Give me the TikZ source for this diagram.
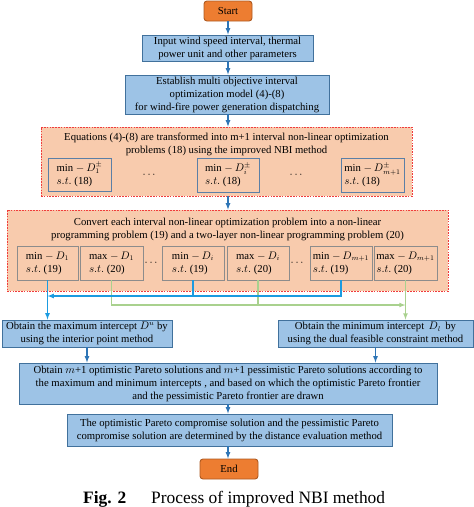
\documentclass[tikz,border=0pt]{standalone}
\usepackage{fontspec}
\setmainfont{Liberation Serif}
\usepackage{amsmath}
\usepackage{amssymb}
\usetikzlibrary{arrows}
\definecolor{boxblue}{HTML}{9DC3E6}
\definecolor{edgeblue}{HTML}{41719C}
\definecolor{termorange}{HTML}{ED7D31}
\definecolor{termedge}{HTML}{AE5A21}
\definecolor{peach}{HTML}{F8CBAD}
\definecolor{dashred}{HTML}{F03C3C}
\definecolor{subedge}{HTML}{5B7FA6}
\definecolor{subgray}{HTML}{8C8C8C}
\definecolor{arrowblue}{HTML}{2E75B6}
\definecolor{linkblue}{HTML}{1B9BE0}
\definecolor{linkgreen}{HTML}{A9D18E}
\tikzstyle{every node}=[font=\fontsize{10.7}{13}\selectfont]
\tikzstyle{stepbox}=[draw=edgeblue, line width=0.9pt, fill=boxblue, align=center, inner sep=0pt]
\tikzstyle{termbox}=[draw=termedge, line width=0.9pt, fill=termorange, rounded corners=3pt, inner sep=0pt]
\tikzstyle{groupbox}=[draw=dashred, line width=0.8pt, dash pattern=on 1.6pt off 1.2pt, fill=peach, inner sep=0pt]
\tikzstyle{subbox}=[line width=0.9pt, align=left, inner sep=0pt]
\tikzstyle{flow}=[-latex, draw=arrowblue, line width=1.2pt]

\begin{document}
\begin{tikzpicture}[x=1pt,y=-1pt]
\useasboundingbox (0,0) rectangle (474,507);
% main column
\node[termbox, minimum width=48pt, minimum height=20pt] (start) at (228,11) {Start};
\node[stepbox, minimum width=171pt, minimum height=26pt] (input) at (227.5,48) {Input wind speed interval, thermal\\power unit and other parameters};
\node[stepbox, minimum width=204pt, minimum height=39pt] (estab) at (227,94.5) {Establish multi objective interval\\optimization model (4)-(8)\\for wind-fire power generation dispatching};
% first dashed group
\node[groupbox, minimum width=371pt, minimum height=69pt] (grpA) at (226.5,161.5) {};
\node[align=center, inner sep=0pt] (titleA) at (226.5,144) {Equations (4)-(8) are transformed into m+1 interval non-linear optimization\\problems (18) using the improved NBI method};
\node[subbox, draw=subedge, minimum width=63pt, minimum height=33pt] (a1) at (79.5,174.5) {min $-\,D_1^{\pm}$\\$s.t.$ (18)};
\node[subbox, draw=subedge, minimum width=62pt, minimum height=34pt] (a2) at (228,175) {min $-\,D_i^{\pm}$\\$s.t.$ (18)};
\node[subbox, draw=subedge, minimum width=63pt, minimum height=34pt] (a3) at (372.5,175) {min $-\,D_{m+1}^{\pm}$\\$s.t.$ (18)};
\node (dotsA1) at (150,175) {$\cdots$};
\node (dotsA2) at (297,175) {$\cdots$};
% second dashed group
\node[groupbox, minimum width=441pt, minimum height=81pt] (grpB) at (227.5,250.5) {};
\node[align=center, inner sep=0pt] (titleB) at (227.5,229) {Convert each interval non-linear optimization problem into a non-linear\\programming problem (19) and a two-layer non-linear programming problem (20)};
\node[subbox, draw=subgray, minimum width=61pt, minimum height=34pt] (b1) at (47.5,263) {min $-\,D_1$\\$s.t.$ (19)};
\node[subbox, draw=subgray, minimum width=63pt, minimum height=34pt] (b2) at (111.5,263) {max $-\,D_1$\\$s.t.$ (20)};
\node[subbox, draw=subgray, minimum width=62pt, minimum height=34pt] (b3) at (193,263) {min $-\,D_i$\\$s.t.$ (19)};
\node[subbox, draw=subgray, minimum width=62pt, minimum height=34pt] (b4) at (258,263) {max $-\,D_i$\\$s.t.$ (20)};
\node[subbox, draw=subgray, minimum width=62pt, minimum height=34pt] (b5) at (341,263) {min $-\,D_{m+1}$\\$s.t.$ (19)};
\node[subbox, draw=subgray, minimum width=63pt, minimum height=34pt] (b6) at (405.5,263) {max $-\,D_{m+1}$\\$s.t.$ (20)};
\node (dotsB1) at (152,263) {$\cdots$};
\node (dotsB2) at (298,263) {$\cdots$};
% intercepts and results
\node[stepbox, minimum width=170pt, minimum height=27pt] (maxb) at (87,333.5) {Obtain the maximum intercept $D^{u}$ by\\using the interior point method};
\node[stepbox, minimum width=195pt, minimum height=27pt] (minb) at (375.5,333.5) {Obtain the minimum intercept \,$D_{l}$\, by\\using the dual feasible constraint method};
\node[stepbox, minimum width=418pt, minimum height=41pt] (big) at (228,383.5) {Obtain $m$+1 optimistic Pareto solutions and $m$+1 pessimistic Pareto solutions according to\\the maximum and minimum intercepts , and based on which the optimistic Pareto frontier\\and the pessimistic Pareto frontier are drawn};
\node[stepbox, minimum width=325pt, minimum height=32pt] (comp) at (229.5,430) {The optimistic Pareto compromise solution and the pessimistic Pareto\\compromise solution are determined by the distance evaluation method};
\node[termbox, minimum width=58pt, minimum height=20pt] (end) at (229,469) {End};
\node[anchor=base west, inner sep=0pt, font=\fontsize{17.4}{20}\selectfont] (caption) at (83,503) {\textbf{Fig. 2}\hspace{25pt}Process of improved NBI method};
% connectors
\coordinate (bline) at (0,296);
\coordinate (gline) at (0,305);
\draw[flow] (start.south) -- (start.south |- input.north);
\draw[flow] (start.south |- input.south) -- (start.south |- estab.north);
\draw[flow] (start.south |- estab.south) -- (start.south |- grpA.north);
\draw[flow] (start.south |- grpA.south) -- (start.south |- grpB.north);
\draw[-latex, linkgreen, line width=1.1pt] (b2.south) |- (b6.south |- gline);
\draw[linkgreen, line width=1.1pt] (b4.south) -- (b4.south |- gline);
\draw[-latex, linkgreen, line width=1.1pt] (b6.south) -- (b6.south |- minb.north);
\draw[-latex, linkblue, line width=1.2pt] (b5.south) |- (b1.south |- bline);
\draw[linkblue, line width=1.2pt] (b3.south) -- (b3.south |- bline);
\draw[-latex, linkblue, line width=1.2pt] (b1.south) -- (b1.south |- maxb.north);
\draw[flow] (maxb.south) -- (maxb.south |- big.north);
\draw[flow] (minb.south) -- (minb.south |- big.north);
\draw[flow] (big.south -| start.south) -- (start.south |- comp.north);
\draw[flow] (start.south |- comp.south) -- (start.south |- end.north);
\end{tikzpicture}
\end{document}
